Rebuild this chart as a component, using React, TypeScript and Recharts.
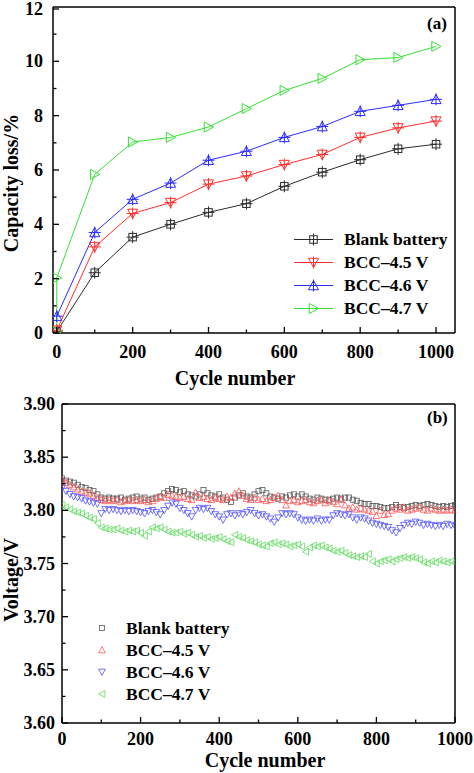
import React from 'react';
import { LineChart, Line, XAxis, YAxis, ReferenceLine, Legend } from 'recharts';

const FONT = "'Liberation Serif', 'Times New Roman', serif";

// ---- (a) capacity loss vs cycle number ----
const lossCycles = [0, 100, 200, 300, 400, 500, 600, 700, 800, 900, 1000];
const lossBlank = [0.05, 2.22, 3.53, 4.0, 4.44, 4.76, 5.4, 5.92, 6.38, 6.78, 6.95];
const loss45 = [0.1, 3.17, 4.4, 4.8, 5.48, 5.78, 6.2, 6.57, 7.2, 7.55, 7.8];
const loss46 = [0.62, 3.7, 4.92, 5.52, 6.36, 6.69, 7.2, 7.6, 8.16, 8.38, 8.6];
const loss47Cycles = [0, 0, 100, 200, 300, 400, 500, 600, 700, 800, 900, 1000];
const loss47 = [0.05, 2.03, 5.84, 7.03, 7.2, 7.58, 8.26, 8.93, 9.37, 10.06, 10.14, 10.55];

const lossXTicks = [0, 100, 200, 300, 400, 500, 600, 700, 800, 900, 1000];
const lossYTicks = [0, 1, 2, 3, 4, 5, 6, 7, 8, 9, 10, 11, 12];

// ---- (b) median voltage vs cycle number, sampled every 10 cycles ----
const voltCycles = Array.from({ length: 101 }, (_, i) => i * 10);
const voltBlank = [
  3.830, 3.828, 3.827, 3.826, 3.824, 3.822, 3.821, 3.819, 3.818, 3.815,
  3.812, 3.811, 3.812, 3.811, 3.811, 3.812, 3.810, 3.811, 3.812, 3.813,
  3.811, 3.812, 3.810, 3.811, 3.812, 3.813, 3.816, 3.818, 3.820, 3.819,
  3.817, 3.818, 3.815, 3.814, 3.813, 3.815, 3.819, 3.816, 3.814, 3.813,
  3.815, 3.812, 3.810, 3.808, 3.812, 3.814, 3.816, 3.813, 3.812, 3.815,
  3.818, 3.819, 3.816, 3.813, 3.812, 3.811, 3.813, 3.812, 3.814, 3.815,
  3.813, 3.815, 3.813, 3.811, 3.810, 3.812, 3.811, 3.810, 3.810, 3.811,
  3.812, 3.811, 3.812, 3.812, 3.810, 3.809, 3.807, 3.806, 3.806, 3.804,
  3.804, 3.803, 3.802, 3.802, 3.803, 3.805, 3.803, 3.802, 3.803, 3.804,
  3.805, 3.804, 3.805, 3.806, 3.805, 3.804, 3.803, 3.804, 3.803, 3.804,
  3.805,
];
const volt45 = [
  3.829, 3.826, 3.824, 3.822, 3.820, 3.818, 3.817, 3.816, 3.814, 3.812,
  3.810, 3.809, 3.810, 3.809, 3.810, 3.808, 3.809, 3.810, 3.809, 3.810,
  3.809, 3.810, 3.808, 3.809, 3.811, 3.813, 3.812, 3.815, 3.814, 3.813,
  3.812, 3.813, 3.811, 3.810, 3.817, 3.812, 3.813, 3.811, 3.810, 3.812,
  3.811, 3.810, 3.813, 3.812, 3.816, 3.818, 3.814, 3.811, 3.810, 3.812,
  3.810, 3.811, 3.809, 3.810, 3.812, 3.814, 3.810, 3.805, 3.809, 3.810,
  3.808, 3.809, 3.810, 3.808, 3.807, 3.809, 3.810, 3.807, 3.809, 3.808,
  3.806, 3.810, 3.805, 3.802, 3.803, 3.801, 3.802, 3.801, 3.800, 3.799,
  3.795, 3.800, 3.796, 3.797, 3.800, 3.802, 3.801, 3.803, 3.800, 3.801,
  3.802, 3.803, 3.801, 3.800, 3.802, 3.801, 3.800, 3.801, 3.800, 3.801,
  3.800,
];
const volt46 = [
  3.821, 3.818, 3.815, 3.813, 3.812, 3.811, 3.809, 3.808, 3.807, 3.806,
  3.797, 3.801, 3.800, 3.801, 3.800, 3.799, 3.800, 3.799, 3.800, 3.799,
  3.798, 3.797, 3.799, 3.800, 3.798, 3.796, 3.800, 3.804, 3.807, 3.806,
  3.802, 3.800, 3.797, 3.794, 3.800, 3.802, 3.801, 3.802, 3.799, 3.796,
  3.794, 3.791, 3.796, 3.797, 3.795, 3.797, 3.796, 3.798, 3.800, 3.797,
  3.795, 3.796, 3.794, 3.792, 3.789, 3.793, 3.797, 3.796, 3.797, 3.796,
  3.793, 3.791, 3.790, 3.791, 3.790, 3.792, 3.790, 3.791, 3.791, 3.795,
  3.797, 3.796, 3.795, 3.796, 3.793, 3.791, 3.793, 3.792, 3.790, 3.788,
  3.787, 3.786, 3.785, 3.784, 3.781, 3.779, 3.783, 3.786, 3.788, 3.787,
  3.789, 3.788, 3.786, 3.787, 3.786, 3.785, 3.786, 3.785, 3.787, 3.786,
  3.785,
];
const volt47 = [
  3.805, 3.803, 3.801, 3.799, 3.798, 3.797, 3.795, 3.793, 3.792, 3.788,
  3.784, 3.783, 3.782, 3.782, 3.783, 3.781, 3.780, 3.781, 3.780, 3.781,
  3.779, 3.776, 3.780, 3.784, 3.783, 3.784, 3.782, 3.780, 3.779, 3.779,
  3.780, 3.778, 3.779, 3.777, 3.775, 3.776, 3.774, 3.775, 3.773, 3.774,
  3.775, 3.773, 3.771, 3.770, 3.777, 3.775, 3.774, 3.772, 3.771, 3.770,
  3.768, 3.767, 3.766, 3.769, 3.770, 3.768, 3.769, 3.768, 3.766, 3.767,
  3.768, 3.766, 3.761, 3.765, 3.767, 3.766, 3.767, 3.765, 3.764, 3.762,
  3.761, 3.762, 3.760, 3.758, 3.757, 3.756, 3.757, 3.756, 3.759, 3.752,
  3.750, 3.752, 3.753, 3.754, 3.752, 3.754, 3.755, 3.756, 3.755, 3.756,
  3.755, 3.754, 3.751, 3.750, 3.752, 3.751, 3.753, 3.752, 3.751, 3.752,
  3.751,
];

const voltXTicks = [0, 100, 200, 300, 400, 500, 600, 700, 800, 900, 1000];
const voltYTicks = [3.6, 3.625, 3.65, 3.675, 3.7, 3.725, 3.75, 3.775, 3.8, 3.825, 3.85, 3.875, 3.9];

const seriesNames = ['Blank battery', 'BCC\u20134.5 V', 'BCC\u20134.6 V', 'BCC\u20134.7 V'];

const toRows = (xs: number[], ys: number[]) => xs.map((c, i) => ({ cycle: c, v: ys[i] }));

type Shape = 'square' | 'up' | 'down' | 'left' | 'right';

// open marker, optionally with a cross through it
const Mark = ({ cx, cy, shape, color, r, cross, sw }: { cx: number; cy: number; shape: Shape; color: string; r: number; cross?: boolean; sw: number }) => {
  let body: React.ReactNode;
  if (shape === 'square') {
    const s = r * 0.75;
    body = <rect x={cx - s} y={cy - s} width={2 * s} height={2 * s} />;
  } else {
    const h = r * 0.85;
    const pts: Record<string, number[][]> = {
      up: [[cx - r, cy + h], [cx + r, cy + h], [cx, cy - r]],
      down: [[cx - r, cy - h], [cx + r, cy - h], [cx, cy + r]],
      left: [[cx + h, cy - r], [cx + h, cy + r], [cx - r, cy]],
      right: [[cx - h, cy - r], [cx - h, cy + r], [cx + r, cy]],
    };
    body = <polygon points={pts[shape].map((p) => p.join(',')).join(' ')} />;
  }
  return (
    <g fill="none" stroke={color} strokeWidth={sw}>
      {body}
      {cross && (
        <>
          <line x1={cx} x2={cx} y1={cy - r - 1} y2={cy + r + 1} />
          <line x1={cx - r - 1} x2={cx + r + 1} y1={cy} y2={cy} />
        </>
      )}
    </g>
  );
};

const lossSeries = [
  { name: seriesNames[0], rows: toRows(lossCycles, lossBlank), color: '#2b2b2b', shape: 'square' as Shape },
  { name: seriesNames[1], rows: toRows(lossCycles, loss45), color: '#ff2d2d', shape: 'down' as Shape },
  { name: seriesNames[2], rows: toRows(lossCycles, loss46), color: '#2c2cff', shape: 'up' as Shape },
  { name: seriesNames[3], rows: toRows(loss47Cycles, loss47), color: '#33e033', shape: 'right' as Shape },
];

const voltSeries = [
  { name: seriesNames[0], rows: toRows(voltCycles, voltBlank), color: '#5a5a5a', shape: 'square' as Shape },
  { name: seriesNames[1], rows: toRows(voltCycles, volt45), color: '#ff5555', shape: 'up' as Shape },
  { name: seriesNames[2], rows: toRows(voltCycles, volt46), color: '#5050ff', shape: 'down' as Shape },
  { name: seriesNames[3], rows: toRows(voltCycles, volt47), color: '#5fdc5f', shape: 'left' as Shape },
];

// inward tick marks, labels only on major ticks
const bottomTick = (isMajor: (v: number) => boolean, fmt: (v: number) => string, dy: number) => (props: any) => {
  const { x, y, payload } = props;
  const major = isMajor(payload.value);
  return (
    <g>
      <line x1={x} x2={x} y1={y} y2={y - (major ? 6 : 3.5)} stroke="#000" strokeWidth={1.3} />
      {major && (
        <text x={x} y={y + dy} textAnchor="middle" fontFamily={FONT} fontWeight="bold" fontSize={18} fill="#000">
          {fmt(payload.value)}
        </text>
      )}
    </g>
  );
};

const leftTick = (isMajor: (v: number) => boolean, fmt: (v: number) => string, gap: number) => (props: any) => {
  const { x, y, payload } = props;
  const major = isMajor(payload.value);
  return (
    <g>
      <line x1={x} x2={x + (major ? 6 : 3.5)} y1={y} y2={y} stroke="#000" strokeWidth={1.3} />
      {major && (
        <text x={x - gap} y={y + 6} textAnchor="end" fontFamily={FONT} fontWeight="bold" fontSize={18} fill="#000">
          {fmt(payload.value)}
        </text>
      )}
    </g>
  );
};

const legendText: React.CSSProperties = {
  fontFamily: FONT,
  fontWeight: 'bold',
  fontSize: 17.5,
  color: '#000',
  whiteSpace: 'nowrap',
};

const LossLegend = () => (
  <div>
    {lossSeries.map((s) => (
      <div key={s.name} style={{ display: 'flex', alignItems: 'center', height: 23 }}>
        <svg width={50} height={23}>
          <line x1={0} x2={39} y1={11.5} y2={11.5} stroke={s.color} strokeWidth={1} />
          <Mark cx={19.5} cy={11.5} shape={s.shape} color={s.color} r={5} cross={s.shape !== 'right'} sw={1} />
        </svg>
        <span style={legendText}>{s.name}</span>
      </div>
    ))}
  </div>
);

const VoltLegend = () => (
  <div>
    {voltSeries.map((s) => (
      <div key={s.name} style={{ display: 'flex', alignItems: 'center', height: 22 }}>
        <svg width={29} height={22}>
          <Mark cx={5} cy={11} shape={s.shape} color={s.color} r={3.4} sw={0.8} />
        </svg>
        <span style={legendText}>{s.name}</span>
      </div>
    ))}
  </div>
);

const AxisTitle = ({ x, y, text, rotate }: { x: number; y: number; text: string; rotate?: boolean }) => (
  <div
    style={{
      position: 'absolute',
      left: x,
      top: y,
      transform: `translate(-50%, -50%)${rotate ? ' rotate(-90deg)' : ''}`,
      fontFamily: FONT,
      fontWeight: 'bold',
      fontSize: 20,
      lineHeight: '20px',
      whiteSpace: 'nowrap',
      color: '#000',
    }}
  >
    {text}
  </div>
);

const PanelTag = ({ x, y, text }: { x: number; y: number; text: string }) => (
  <div style={{ position: 'absolute', left: x, top: y, fontFamily: FONT, fontWeight: 'bold', fontSize: 17, lineHeight: '17px' }}>
    {text}
  </div>
);

const App: React.FC = () => {
  return (
    <div style={{ position: 'absolute', left: 0, top: 0, width: 474, height: 773, background: '#fff' }}>
      {/* (a) capacity loss */}
      <div style={{ position: 'absolute', left: 0, top: 0 }}>
        <LineChart width={474} height={385} margin={{ top: 7, right: 19, bottom: 0, left: 0 }}>
          <XAxis
            dataKey="cycle"
            type="number"
            domain={[-10, 1050]}
            ticks={lossXTicks}
            height={52}
            tickSize={0}
            tickMargin={0}
            stroke="#000"
            strokeWidth={1.5}
            tick={bottomTick((v) => v % 200 === 0, (v) => String(v), 25)}
            allowDataOverflow
          />
          <YAxis
            type="number"
            domain={[0, 12]}
            ticks={lossYTicks}
            width={53}
            tickSize={0}
            tickMargin={0}
            stroke="#000"
            strokeWidth={1.5}
            tick={leftTick((v) => v % 2 === 0, (v) => String(v), 10)}
            allowDataOverflow
          />
          <ReferenceLine y={12} stroke="#000" strokeWidth={1.5} />
          <ReferenceLine x={1050} stroke="#000" strokeWidth={1.5} />
          {lossSeries.map((s) => (
            <Line
              key={s.name}
              data={s.rows}
              dataKey="v"
              name={s.name}
              stroke={s.color}
              strokeWidth={1}
              isAnimationActive={false}
              activeDot={false}
              dot={(p: any) => (
                <Mark key={`${s.name}-${p.index}`} cx={p.cx} cy={p.cy} shape={s.shape} color={s.color} r={5} cross={s.shape !== 'right'} sw={1} />
              )}
            />
          ))}
          <Legend
            layout="vertical"
            align="center"
            verticalAlign="middle"
            content={() => <LossLegend />}
            wrapperStyle={{ left: 294, top: 228, width: 170 }}
          />
        </LineChart>
        <AxisTitle x={235} y={378} text="Cycle number" />
        <AxisTitle x={11} y={183} text="Capacity loss/%" rotate />
        <PanelTag x={427} y={15} text="(a)" />
      </div>

      {/* (b) voltage */}
      <div style={{ position: 'absolute', left: 0, top: 385 }}>
        <LineChart width={474} height={388} margin={{ top: 19, right: 19, bottom: 0, left: 0 }}>
          <XAxis
            dataKey="cycle"
            type="number"
            domain={[0, 1000]}
            ticks={voltXTicks}
            height={50}
            tickSize={0}
            tickMargin={0}
            stroke="#000"
            strokeWidth={1.5}
            tick={bottomTick((v) => v % 200 === 0, (v) => String(v), 22)}
            allowDataOverflow
          />
          <YAxis
            type="number"
            domain={[3.6, 3.9]}
            ticks={voltYTicks}
            width={62}
            tickSize={0}
            tickMargin={0}
            stroke="#000"
            strokeWidth={1.5}
            tick={leftTick((v) => Math.round(v * 1000) % 50 === 0, (v) => v.toFixed(2), 7)}
            allowDataOverflow
          />
          <ReferenceLine y={3.9} stroke="#000" strokeWidth={1.5} />
          <ReferenceLine x={1000} stroke="#000" strokeWidth={1.5} />
          {voltSeries.map((s) => (
            <Line
              key={s.name}
              data={s.rows}
              dataKey="v"
              name={s.name}
              stroke="none"
              isAnimationActive={false}
              activeDot={false}
              dot={(p: any) => (
                <Mark key={`${s.name}-${p.index}`} cx={p.cx} cy={p.cy} shape={s.shape} color={s.color} r={3.4} sw={0.8} />
              )}
            />
          ))}
          <Legend
            layout="vertical"
            align="center"
            verticalAlign="middle"
            content={() => <VoltLegend />}
            wrapperStyle={{ left: 97, top: 232, width: 200 }}
          />
        </LineChart>
        <AxisTitle x={265} y={375} text="Cycle number" />
        <AxisTitle x={11} y={195} text="Voltage/V" rotate />
        <PanelTag x={427} y={24} text="(b)" />
      </div>
    </div>
  );
};

export default App;
